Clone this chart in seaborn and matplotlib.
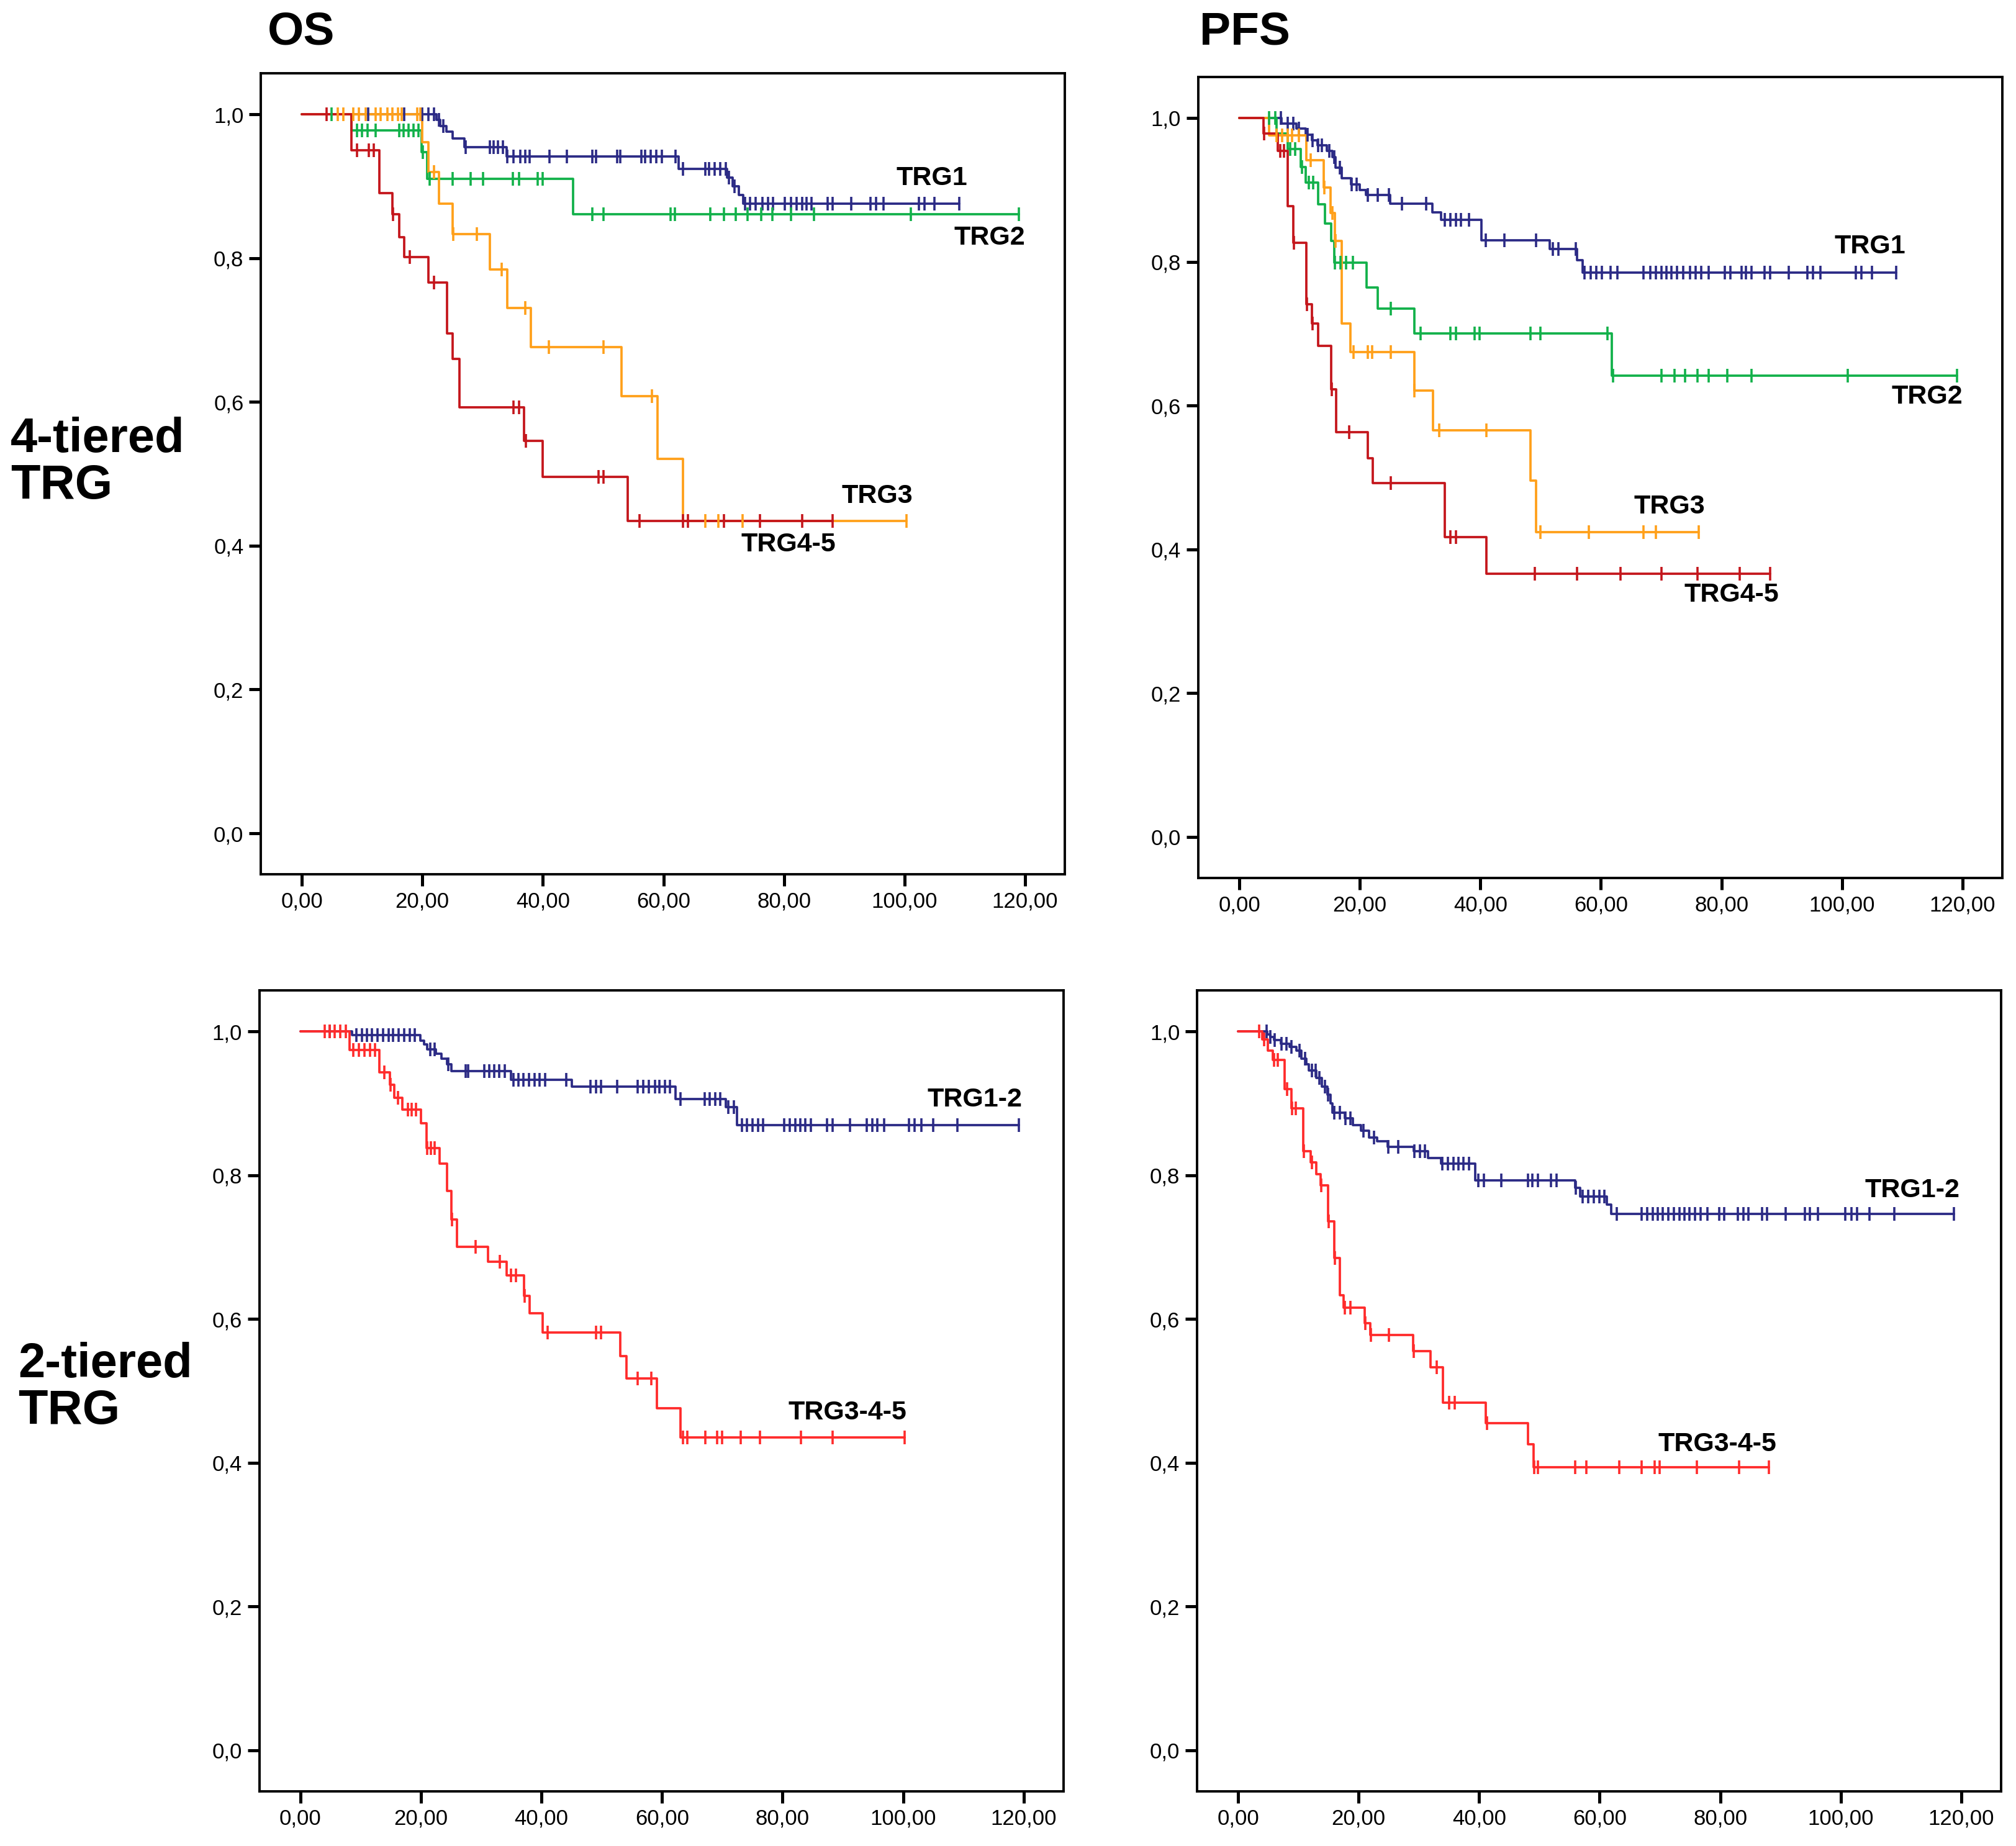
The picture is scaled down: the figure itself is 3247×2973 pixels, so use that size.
import matplotlib
matplotlib.use('Agg')
import matplotlib.pyplot as plt
import seaborn as sns
import numpy as np
from matplotlib.ticker import FuncFormatter

sns.set_style('white')
plt.rcParams['font.family'] = ['Liberation Sans', 'DejaVu Sans']
plt.rcParams['text.color'] = 'black'
plt.rcParams['xtick.color'] = 'black'
plt.rcParams['ytick.color'] = 'black'
plt.rcParams['axes.labelcolor'] = 'black'

NAVY = '#2b2a85'
GREEN = '#12b14a'
ORANGE = '#ffa01a'
DARKRED = '#c4161c'
RED = '#ff2b2b'

# ---- OS, 4-tiered TRG (drop times, survival after drop, censored times) ----
os4_trg1_t = [22.3, 23, 24, 25, 27, 34, 62.5, 70.5, 71.5, 72.5, 73.2]
os4_trg1_s = [0.992, 0.984, 0.976, 0.966, 0.954, 0.941, 0.924, 0.912, 0.900, 0.888, 0.876]
os4_trg1_c = [11, 17, 20, 21, 21.9, 22.8, 23.5, 27.2, 31.2, 31.8, 32.5, 33.4, 34.1, 35.1, 36.2,
              37.1, 37.8, 41.1, 44, 48.2, 48.8, 52.3, 52.8, 56.3, 57, 57.9, 58.8, 59.7, 62,
              63.2, 66.9, 67.6, 68.5, 69.4, 70.3, 70.9, 71.8, 73.5, 74.4, 75.3, 76.4, 77.3,
              78.2, 80.1, 81.2, 82.1, 83, 83.7, 84.6, 87.2, 88.1, 91.2, 94.3, 95.3, 96.5,
              102.4, 103.3, 105, 109.1]

os4_trg2_t = [8.2, 19.9, 20.8, 45]
os4_trg2_s = [0.978, 0.947, 0.910, 0.861]
os4_trg2_c = [4.9, 9.1, 10, 10.9, 12.2, 16.2, 16.9, 17.7, 18.5, 19.4, 20.1, 21.2, 25, 28, 30.1,
              35, 36, 39.1, 40, 48.2, 50, 61.2, 61.9, 67.8, 70, 72, 74, 76.2, 78.1, 81.2, 85,
              101, 119]

os4_trg3_t = [20, 21, 22.8, 25, 31.2, 34.1, 38, 53, 59, 63.2]
os4_trg3_s = [0.961, 0.920, 0.876, 0.833, 0.784, 0.731, 0.676, 0.608, 0.521, 0.434]
os4_trg3_c = [6, 6.9, 8.5, 9.5, 10.6, 12.2, 13.1, 14.2, 15, 15.9, 16.6, 19.1, 19.7, 21.9, 25.1,
              29, 33.2, 37.1, 41, 50, 58.1, 66.9, 69.1, 73.1, 100.3]

os4_trg45_t = [8.2, 12.9, 15, 16.2, 17, 21, 24.1, 25, 26.1, 36.9, 40, 54.1]
os4_trg45_s = [0.950, 0.890, 0.861, 0.829, 0.801, 0.766, 0.695, 0.660, 0.592, 0.546, 0.496, 0.434]
os4_trg45_c = [4.1, 9.1, 11.1, 11.9, 15.1, 17.9, 21.9, 35.1, 36, 37.2, 49.2, 50, 56, 63.2,
               64.1, 70, 76, 83, 88.1]

# ---- PFS, 4-tiered TRG ----
pfs4_trg1_t = [7, 9.5, 11, 12, 13, 14.5, 15.5, 16, 17, 18.5, 20, 21, 25, 32, 33.5, 40.2, 51.5,
               56, 57]
pfs4_trg1_s = [0.992, 0.985, 0.977, 0.969, 0.962, 0.954, 0.946, 0.931, 0.916, 0.908, 0.900,
               0.893, 0.881, 0.869, 0.858, 0.830, 0.818, 0.802, 0.785]
pfs4_trg1_c = [6.9, 8, 9, 9.9, 11.3, 12.2, 13.1, 13.7, 14.9, 15.8, 16.7, 18.6, 19.5, 21.3, 23,
               24.8, 27, 31, 34.1, 35, 35.9, 36.8, 38.1, 40.9, 44, 49.2, 52, 52.9, 55.8, 57.3,
               58.3, 59.2, 60.2, 61.6, 62.7, 67.1, 68.2, 69.1, 70, 70.9, 71.7, 72.6, 73.7,
               74.8, 75.7, 76.6, 77.9, 80.6, 81.5, 83.3, 84.1, 85, 87.2, 88.1, 91.2, 94.3,
               95.2, 96.4, 102.3, 103.2, 105, 109]

pfs4_trg2_t = [6.2, 8, 10.2, 11, 13.1, 14.2, 15.2, 15.8, 21.1, 23, 29, 61.8]
pfs4_trg2_s = [0.978, 0.957, 0.932, 0.910, 0.880, 0.853, 0.829, 0.799, 0.764, 0.735, 0.700, 0.642]
pfs4_trg2_c = [4.9, 6, 8.4, 9.3, 10.4, 11.5, 12.3, 15.9, 16.8, 17.7, 18.8, 25.1, 30.1, 35, 35.9,
               39, 39.9, 48.3, 50, 61.1, 62, 70, 72.2, 74, 76, 77.9, 81, 85, 101, 119.1]

pfs4_trg3_t = [4.9, 11.1, 14, 15.1, 15.9, 17, 18.4, 29, 32.1, 48.3, 49.2]
pfs4_trg3_s = [0.976, 0.941, 0.903, 0.868, 0.829, 0.714, 0.674, 0.621, 0.566, 0.496, 0.424]
pfs4_trg3_c = [6.2, 7.1, 8, 8.8, 9.9, 11.8, 14.1, 15.5, 16, 19, 21.3, 22, 25.1, 29.1, 33.2, 41,
               50, 58, 67.1, 69.1, 76.2]

pfs4_trg45_t = [4, 6.4, 8, 9, 11.1, 12.1, 13.1, 15.2, 16.1, 21.3, 22.1, 34.1, 41]
pfs4_trg45_s = [0.978, 0.954, 0.877, 0.826, 0.741, 0.714, 0.683, 0.623, 0.563, 0.527, 0.492,
                0.417, 0.366]
pfs4_trg45_c = [4.1, 6.8, 7.4, 9.1, 11.2, 12.2, 15.3, 18.2, 25.1, 35, 36, 49, 56, 63.2, 70.1,
                76, 83, 88.1]

# ---- OS, 2-tiered TRG ----
os2_trg12_t = [8.6, 19.9, 20.5, 21, 22.5, 23.4, 24.3, 25, 34.9, 45, 62.2, 70.6, 72.4]
os2_trg12_s = [0.995, 0.987, 0.982, 0.975, 0.969, 0.962, 0.954, 0.945, 0.933, 0.923, 0.906,
               0.895, 0.870]
os2_trg12_c = [4.9, 9.3, 10.2, 11, 11.9, 12.8, 13.7, 14.6, 15.4, 16.3, 17.2, 18.1, 19, 21.5,
               22.3, 24.5, 27.4, 27.8, 30.5, 31.3, 32.2, 33, 33.9, 35.3, 36.2, 37, 37.9, 38.8,
               39.7, 40.6, 44.1, 48.1, 49, 49.9, 52.5, 56, 56.9, 57.8, 58.8, 59.6, 60.5, 61.3,
               63.1, 67.1, 67.9, 68.8, 69.7, 71, 71.9, 73.3, 74.1, 75, 75.9, 76.8, 80.3, 81.2,
               82.1, 82.9, 83.8, 84.7, 87.4, 88.3, 91.2, 94, 94.9, 95.7, 96.8, 101, 101.9, 103,
               105, 109, 119.2]

os2_trg345_t = [8.1, 13.1, 14.8, 15.6, 16.9, 20, 20.9, 23.1, 24.3, 25, 26, 31.1, 34.2, 37.1, 38,
                40.2, 53.1, 54.1, 59.1, 63.1]
os2_trg345_s = [0.974, 0.943, 0.926, 0.908, 0.891, 0.872, 0.838, 0.816, 0.778, 0.738, 0.700,
                0.680, 0.661, 0.632, 0.608, 0.581, 0.548, 0.517, 0.476, 0.435]
os2_trg345_c = [4, 4.9, 5.7, 6.6, 7.5, 8.8, 9.7, 10.6, 11.5, 12.4, 13.9, 15, 16.2, 17.8, 18.5,
                19.2, 21, 21.6, 22.3, 25.1, 29.1, 33.1, 34.9, 35.8, 37.2, 41, 49, 49.9, 56,
                58.2, 63.5, 64.2, 67.2, 69.1, 70, 73, 76.2, 83, 88.3, 100.2]

# ---- PFS, 2-tiered TRG ----
pfs2_trg12_t = [4.8, 5.3, 6, 7.1, 8.5, 9.7, 10.5, 11.3, 11.7, 13, 13.9, 14.8, 15.3, 15.7, 17.7,
                19, 20.4, 21.7, 23.1, 24.8, 29.1, 31.5, 33.7, 39.3, 55.9, 56.8, 61.2, 61.9]
pfs2_trg12_s = [0.996, 0.992, 0.988, 0.983, 0.978, 0.973, 0.962, 0.954, 0.946, 0.935, 0.923,
                0.912, 0.900, 0.887, 0.879, 0.870, 0.862, 0.852, 0.847, 0.839, 0.833, 0.824,
                0.816, 0.793, 0.782, 0.770, 0.759, 0.746]
pfs2_trg12_c = [4.7, 5.4, 6.1, 7.2, 8, 8.9, 10.2, 11.1, 12.2, 12.9, 13.5, 14.4, 14.9, 16, 16.9,
                17.8, 18.6, 20.8, 22.6, 24.9, 26.6, 29.3, 30.2, 31, 33.9, 34.8, 35.7, 36.6,
                37.4, 38.3, 39.9, 40.8, 43.7, 48.1, 48.8, 49.7, 51.9, 52.8, 56, 57.2, 58.1, 59,
                59.9, 60.8, 62.8, 67, 67.9, 68.8, 69.6, 70.5, 71.4, 72.3, 73.2, 74.1, 74.9,
                75.8, 76.7, 77.9, 79.8, 80.7, 82.9, 83.8, 84.7, 86.9, 87.8, 90.9, 94, 94.9,
                96.2, 100.7, 101.8, 102.7, 104.8, 108.9, 118.8]

pfs2_trg345_t = [4, 4.9, 5.8, 7.7, 8.9, 10.8, 12, 13, 13.7, 14.9, 16, 16.9, 17.5, 21, 21.9, 29,
                 31.9, 34, 41.1, 48.1, 49]
pfs2_trg345_s = [0.989, 0.973, 0.960, 0.920, 0.893, 0.833, 0.818, 0.801, 0.786, 0.736, 0.685,
                 0.633, 0.616, 0.594, 0.578, 0.555, 0.533, 0.484, 0.455, 0.426, 0.394]
pfs2_trg345_c = [3.5, 4.3, 6, 6.6, 8.1, 9, 9.6, 10.9, 12.2, 13.8, 15, 16.1, 17.7, 18.6, 21.1,
                 22, 25, 29.1, 33, 35, 35.9, 41.3, 49.1, 49.7, 55.9, 57.8, 63.2, 67, 69.1, 69.9,
                 76.1, 83.1, 88.1]

x_ticks = [0, 20, 40, 60, 80, 100, 120]
y_ticks = [0.0, 0.2, 0.4, 0.6, 0.8, 1.0]


def km_curve(ax, times, surv, cens, color):
    end = max(cens[-1], times[-1])
    xs = [0.0] + list(times) + [end]
    ys = [1.0] + list(surv) + [surv[-1]]
    sns.lineplot(x=xs, y=ys, ax=ax, color=color, drawstyle='steps-post',
                 estimator=None, sort=False, linewidth=2.7)
    levels = np.array([1.0] + list(surv))
    idx = np.searchsorted(np.array(times), np.array(cens), side='right')
    sns.scatterplot(x=cens, y=levels[idx], ax=ax, marker='|', s=230,
                    color=color, linewidth=2.6, zorder=5)


def style_axes(ax):
    ax.set_xlim(-6.8, 126.6)
    ax.set_ylim(-0.057, 1.057)
    ax.set_xticks(x_ticks)
    ax.set_yticks(y_ticks)
    ax.xaxis.set_major_formatter(FuncFormatter(lambda v, p: f'{v:.2f}'.replace('.', ',')))
    ax.yaxis.set_major_formatter(FuncFormatter(lambda v, p: f'{v:.1f}'.replace('.', ',')))
    ax.tick_params(direction='out', length=14, width=3.6, color='black', labelcolor='black',
                   labelsize=25, pad=6, bottom=True, left=True)
    for sp in ax.spines.values():
        sp.set_visible(True)
        sp.set_color('black')
        sp.set_linewidth(2.8)
    ax.set_xlabel('')
    ax.set_ylabel('')
    ax.grid(False)


fig = plt.figure(figsize=(32.47, 29.73), dpi=100)
ax_os4 = fig.add_axes([0.1294, 0.5264, 0.3988, 0.4339])
ax_pfs4 = fig.add_axes([0.5944, 0.5244, 0.3988, 0.4339])
ax_os2 = fig.add_axes([0.1287, 0.0296, 0.3988, 0.4339])
ax_pfs2 = fig.add_axes([0.5938, 0.0296, 0.3988, 0.4339])

km_curve(ax_os4, os4_trg1_t, os4_trg1_s, os4_trg1_c, NAVY)
km_curve(ax_os4, os4_trg2_t, os4_trg2_s, os4_trg2_c, GREEN)
km_curve(ax_os4, os4_trg3_t, os4_trg3_s, os4_trg3_c, ORANGE)
km_curve(ax_os4, os4_trg45_t, os4_trg45_s, os4_trg45_c, DARKRED)

km_curve(ax_pfs4, pfs4_trg1_t, pfs4_trg1_s, pfs4_trg1_c, NAVY)
km_curve(ax_pfs4, pfs4_trg2_t, pfs4_trg2_s, pfs4_trg2_c, GREEN)
km_curve(ax_pfs4, pfs4_trg3_t, pfs4_trg3_s, pfs4_trg3_c, ORANGE)
km_curve(ax_pfs4, pfs4_trg45_t, pfs4_trg45_s, pfs4_trg45_c, DARKRED)

km_curve(ax_os2, os2_trg12_t, os2_trg12_s, os2_trg12_c, NAVY)
km_curve(ax_os2, os2_trg345_t, os2_trg345_s, os2_trg345_c, RED)

km_curve(ax_pfs2, pfs2_trg12_t, pfs2_trg12_s, pfs2_trg12_c, NAVY)
km_curve(ax_pfs2, pfs2_trg345_t, pfs2_trg345_s, pfs2_trg345_c, RED)

for ax in (ax_os4, ax_pfs4, ax_os2, ax_pfs2):
    style_axes(ax)

lab = dict(fontsize=31, fontweight='bold', ha='right', va='center', color='black')
ax_os4.text(110.4, 0.911, 'TRG1', **lab)
ax_os4.text(120.0, 0.828, 'TRG2', **lab)
ax_os4.text(101.4, 0.469, 'TRG3', **lab)
ax_os4.text(88.6, 0.402, 'TRG4-5', **lab)

ax_pfs4.text(110.6, 0.821, 'TRG1', **lab)
ax_pfs4.text(120.0, 0.612, 'TRG2', **lab)
ax_pfs4.text(77.3, 0.459, 'TRG3', **lab)
ax_pfs4.text(89.5, 0.337, 'TRG4-5', **lab)

ax_os2.text(119.8, 0.905, 'TRG1-2', **lab)
ax_os2.text(100.6, 0.470, 'TRG3-4-5', **lab)

ax_pfs2.text(119.8, 0.779, 'TRG1-2', **lab)
ax_pfs2.text(89.3, 0.426, 'TRG3-4-5', **lab)

fig.text(431 / 3247, 1 - 52 / 2973, 'OS', fontsize=54, fontweight='bold', ha='left', va='center')
fig.text(1932 / 3247, 1 - 52 / 2973, 'PFS', fontsize=54, fontweight='bold', ha='left', va='center')
fig.text(17 / 3247, 1 - 745 / 2973, '4-tiered\nTRG', fontsize=56, fontweight='bold',
         ha='left', va='center', linespacing=1.05)
fig.text(29 / 3247, 1 - 2235 / 2973, '2-tiered\nTRG', fontsize=56, fontweight='bold',
         ha='left', va='center', linespacing=1.05)

fig.savefig('out.png', dpi=100)
